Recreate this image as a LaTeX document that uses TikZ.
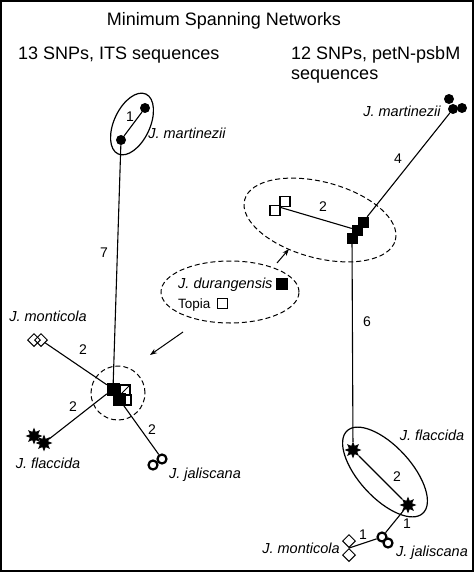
\documentclass[tikz,border=0pt]{standalone}
\usepackage{fontspec}
\setmainfont{Liberation Sans}
\usetikzlibrary{shapes.geometric,arrows.meta}
\begin{document}
\begin{tikzpicture}[x=1pt,y=-1pt,
  lbl/.style={font=\fontsize{14.5}{16}\selectfont\itshape, inner sep=0},
  num/.style={font=\fontsize{14}{16}\selectfont, inner sep=0},
  head/.style={font=\fontsize{18}{20}\selectfont, inner sep=0},
  dotn/.style={circle, fill=black, minimum size=10pt, inner sep=0},
  bsq/.style={rectangle, fill=black, draw=black, minimum size=10pt, inner sep=0},
  osq/.style={rectangle, fill=white, draw=black, line width=1.2pt, minimum size=9pt, inner sep=0},
  dia/.style={diamond, draw=black, line width=1pt, minimum size=13pt, inner sep=0},
  ring/.style={circle, draw=black, line width=2.2pt, fill=white, minimum size=9pt, inner sep=0},
  astk/.style={star, star points=8, star point ratio=1.9, fill=black, draw=black, line width=0.6pt, minimum size=15pt, inner sep=0},
  edge/.style={line width=1.1pt},
  dashline/.style={line width=1pt, dash pattern=on 5pt off 3pt},
  arr/.style={line width=1pt, -{Stealth[length=7pt,width=5pt]}}]
\useasboundingbox (0,0) rectangle (474,572);
\draw[line width=2pt] (1,1) rectangle (473,571);
% headings
\node[head, anchor=base] (title) at (224,26) {Minimum Spanning Networks};
\node[head, anchor=base west] (h1) at (18,60) {13 SNPs, ITS sequences};
\node[head, anchor=base west] (h2) at (291,60) {12 SNPs, petN-psbM};
\node[head, anchor=base west] (h3) at (291,80) {sequences};
% ---- left network ----
\node[ellipse, draw, line width=1.2pt, rotate=65, minimum width=66pt, minimum height=36pt, inner sep=0] (lme) at (132,124) {};
\node[dotn] (lm1) at (145,108) {};
\node[dotn] (lm2) at (121,140) {};
\draw[edge] (lm1) -- (lm2);
\node[num] (n1a) at (130,117) {1};
\node[lbl] (tlm) at (187,133) {J. martinezii};
\node[circle, draw, dashline, minimum size=54pt, inner sep=0] (lcl) at (118,393) {};
\node[osq, minimum size=10pt] (lo1) at (125,390) {};
\draw[line width=0.8pt] (lo1.south west) -- (lo1.north east);
\node[osq, minimum size=10pt] (lo2) at (126,400) {};
\node[bsq, minimum size=12pt] (lb1) at (113,389) {};
\node[bsq, minimum size=12pt] (lb2) at (119,399) {};
\draw[edge] (lm2) -- (lb1);
\node[num] (n7) at (104,253) {7};
\node[dia] (ld1) at (34,340) {};
\node[dia] (ld2) at (41,340) {};
\draw[edge] (ld2) -- (lb1);
\node[num] (n2a) at (83,350) {2};
\node[lbl] (tlmo) at (48,316) {J. monticola};
\node[astk] (la1) at (34,436) {};
\node[astk] (la2) at (44,443) {};
\draw[edge] (la2) -- (lb1);
\node[num] (n2b) at (73,407) {2};
\node[lbl] (tlf) at (48,463) {J. flaccida};
\node[ring] (lj1) at (153,465) {};
\node[ring] (lj2) at (162,459) {};
\draw[edge] (lb2) -- (lj2);
\node[num] (n2c) at (152,430) {2};
\node[lbl] (tlj) at (205,475) {J. jaliscana};
% ---- legend ----
\node[ellipse, draw, dashline, minimum width=138pt, minimum height=62pt, inner sep=0] (leg) at (230,292) {};
\node[lbl, anchor=base west] (tdur) at (178,288) {J. durangensis};
\node[bsq, minimum size=11pt] (legb) at (281.5,284) {};
\node[font=\fontsize{13.5}{15}\selectfont, inner sep=0, anchor=base west] (ttop) at (178,308) {Topia};
\node[osq, minimum size=10pt] (lego) at (222.5,303.5) {};
\coordinate (a1s) at (277,263);
\coordinate (a1e) at (289,249);
\coordinate (a2s) at (183,332);
\coordinate (a2e) at (150,355);
\draw[arr] (a1s) -- (a1e);
\draw[arr] (a2s) -- (a2e);
% ---- right network ----
\node[ellipse, draw, dashline, rotate=-15, minimum width=156pt, minimum height=76pt, inner sep=0] (rcl) at (320,220) {};
\node[dotn] (rm1) at (449,99) {};
\node[dotn] (rm2) at (453,109) {};
\node[dotn] (rm3) at (462,108) {};
\node[lbl] (trm) at (402,111) {J. martinezii};
\node[bsq] (rb1) at (363,222) {};
\node[bsq] (rb2) at (357,230) {};
\node[bsq] (rb3) at (352,238) {};
\draw[edge] (rm2) -- (rb1);
\node[num] (n4) at (398,159) {4};
\node[osq, minimum size=10pt] (ro1) at (285,201.5) {};
\node[osq, minimum size=10pt] (ro2) at (275,210.5) {};
\draw[edge] (ro1.south west) -- (rb2);
\node[num] (n2d) at (323,207) {2};
\node[ellipse, draw, line width=1.2pt, rotate=-47.5, minimum width=112pt, minimum height=52pt, inner sep=0] (rfe) at (385,472) {};
\node[astk] (rf1) at (353,450) {};
\node[astk] (rf2) at (408,505) {};
\draw[edge] (rb3) -- (rf1);
\node[num] (n6) at (367,322) {6};
\draw[edge] (rf1) -- (rf2);
\node[num] (n2e) at (397,477) {2};
\node[lbl] (trf) at (432,435) {J. flaccida};
\node[ring] (rj1) at (382,537) {};
\node[ring] (rj2) at (388,543) {};
\draw[edge] (rf2) -- (rj1);
\node[num] (n1b) at (407,524) {1};
\node[dia] (rd1) at (349,541) {};
\node[dia] (rd2) at (349,555) {};
\draw[edge] (rj1) -- (rd1.south);
\node[num] (n1c) at (363,535) {1};
\node[lbl] (trmo) at (301,548) {J. monticola};
\node[lbl] (trj) at (432,553) {J. jaliscana};
\end{tikzpicture}
\end{document}
